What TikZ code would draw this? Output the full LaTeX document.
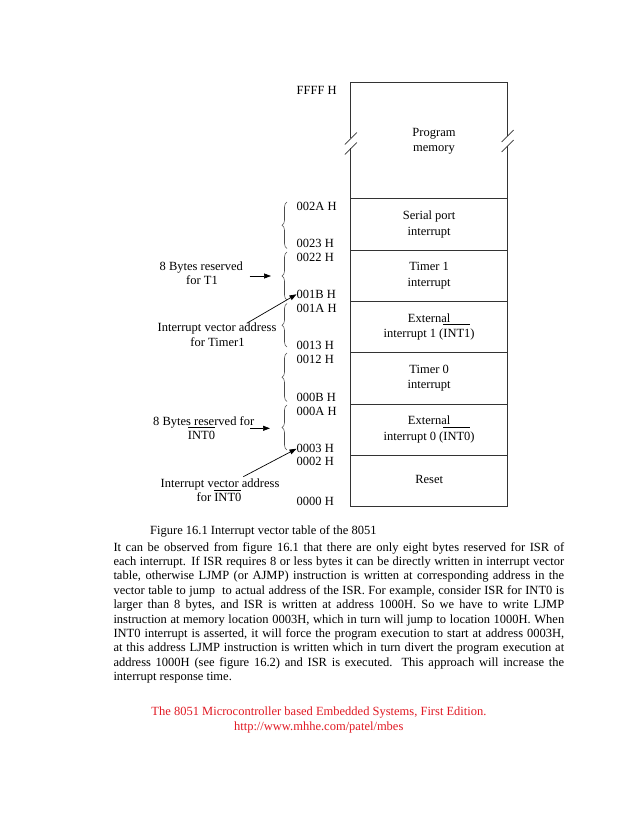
\documentclass[tikz,border=0pt]{standalone}
\usepackage{fontspec}
\setmainfont{Liberation Serif}
\usetikzlibrary{arrows.meta,decorations.pathreplacing}
\newsavebox\ovlbox
\newcommand\ovl[2][4pt]{\sbox\ovlbox{#2}\rlap{\rule[\dimexpr\ht\ovlbox+#1\relax]{\wd\ovlbox}{0.5pt}}\usebox\ovlbox}
\definecolor{ftred}{RGB}{225,25,35}
\begin{document}
\begin{tikzpicture}[x=1pt,y=-1pt,
  font=\fontsize{12.5}{15.3}\selectfont,
  ln/.style={draw=black!80, line width=0.7pt},
  cell/.style={ln, minimum width=156.7pt, minimum height=51.25pt, inner sep=0pt, align=center, anchor=north},
  addr/.style={anchor=base west, inner sep=0pt},
  lbl/.style={anchor=base, inner sep=0pt},
  bracedeco/.style={draw=black!70, line width=0.55pt, decorate, decoration={brace, amplitude=5pt}},
  arr/.style={draw=black, line width=0.7pt, -{Triangle[length=7pt,width=5pt]}}
]
\fill[white] (0,0) rectangle (638,826);
\useasboundingbox (0,0) rectangle (638,826);

% program memory outline with breaks
\draw[ln] (350.8,138.5) -- (350.8,82) -- (507.5,82) -- (507.5,136);
\draw[ln] (350.8,148.5) -- (350.8,198.5);
\draw[ln] (507.5,146) -- (507.5,198.5);
\draw[ln] (344.8,144.5) -- (356.8,132.5);
\draw[ln] (344.8,154.5) -- (356.8,142.5);
\draw[ln] (501.5,142) -- (513.5,130);
\draw[ln] (501.5,152) -- (513.5,140);
\node[align=center, inner sep=0pt] (prog) at (434,141) {Program\\memory};

% vector table cells
\node[cell] (serial) at (429.15,198.5) {Serial port\\interrupt};
\node[cell] (timer1) at (429.15,249.75) {Timer 1\\interrupt};
\node[cell] (ext1) at (429.15,301) {External\\interrupt 1 (\ovl[4.5pt]{INT1})};
\node[cell] (timer0) at (429.15,352.25) {Timer 0\\interrupt};
\node[cell] (ext0) at (429.15,403.5) {External\\interrupt 0 (\ovl[4.5pt]{INT0})};
\node[cell] (reset) at (429.15,454.75) {\raisebox{2pt}{Reset}};

% addresses
\node[addr] (aFFFF) at (296.5,94.1) {FFFF H};
\node[addr] (a002A) at (296.5,210.8) {002A H};
\node[addr] (a0023) at (296.5,247.4) {0023 H};
\node[addr] (a0022) at (296.5,261.8) {0022 H};
\node[addr] (a001B) at (296.5,298.4) {001B H};
\node[addr] (a001A) at (296.5,312.4) {001A H};
\node[addr] (a0013) at (296.5,349.1) {0013 H};
\node[addr] (a0012) at (296.5,363.1) {0012 H};
\node[addr] (a000B) at (296.5,401.4) {000B H};
\node[addr] (a000A) at (296.5,415.1) {000A H};
\node[addr] (a0003) at (296.5,452.8) {0003 H};
\node[addr] (a0002) at (296.5,465.8) {0002 H};
\node[addr] (a0000) at (296.5,505.8) {0000 H};

% braces
\draw[bracedeco] (287,248.5) -- (287,202) coordinate[midway] (b1);
\draw[bracedeco] (287,300) -- (287,252) coordinate[midway] (b2);
\draw[bracedeco] (287,347) -- (287,303.5) coordinate[midway] (b3);
\draw[bracedeco] (287,401.5) -- (287,353) coordinate[midway] (b4);
\draw[bracedeco] (287,450) -- (287,405) coordinate[midway] (b5);

% left labels
\node[lbl] (t1a) at (201.3,270.1) {8 Bytes reserved};
\node[lbl] (t1b) at (202,284.5) {for T1};
\node[lbl] (v1a) at (217,331.5) {Interrupt vector address};
\node[lbl] (v1b) at (217.5,346) {for Timer1};
\node[lbl] (i0a) at (203.7,425) {8 Bytes reserved for};
\node[lbl] (i0b) at (201.5,439) {\ovl[3pt]{INT0}};
\node[lbl] (v0a) at (220,487) {Interrupt vector address};
\node[lbl] (v0b) at (219,501.5) {for \ovl[2.5pt]{INT0}};

% arrows
\coordinate (t1tail) at (249.5,276);
\coordinate (v1tail) at (246.7,323.3);
\coordinate (i0tail) at (250,428.3);
\coordinate (v0tail) at (243.3,476.7);
\draw[arr, shorten >=16pt] (t1tail) -- (b2);
\draw[arr] (v1tail) -- (a001B.west);
\draw[arr, shorten >=17pt] (i0tail) -- (b5 |- i0tail);
\draw[arr] (v0tail) -- (a0003.west);

% caption and text
\node[anchor=base west, inner sep=0pt] (caption) at (150,534) {Figure 16.1 Interrupt vector table of the 8051};
\node[anchor=base west, inner sep=0pt] (body) at (113.3,551) {\parbox[t]{450.7pt}{\fontsize{12.5}{14.4}\selectfont\parindent=0pt\emergencystretch=2em
It can be observed from figure 16.1 that there are only eight bytes reserved for ISR of\linebreak
each interrupt. If ISR requires 8 or less bytes it can be directly written in interrupt vector\linebreak
table, otherwise LJMP (or AJMP) instruction is written at corresponding address in the\linebreak
vector table to jump\ \ to actual address of the ISR. For example, consider ISR for INT0 is\linebreak
larger than 8 bytes, and ISR is written at address 1000H. So we have to write LJMP\linebreak
instruction at memory location 0003H, which in turn will jump to location 1000H. When\linebreak
INT0 interrupt is asserted, it will force the program execution to start at address 0003H,\linebreak
at this address LJMP instruction is written which in turn divert the program execution at\linebreak
address 1000H (see figure 16.2) and ISR is executed. This approach will increase the\linebreak
interrupt response time.}};

% footer
\node[lbl, text=ftred] (foot1) at (319,715.8) {The 8051 Microcontroller based Embedded Systems, First Edition.};
\node[lbl, text=ftred] (foot2) at (318.7,730.8) {http://www.mhhe.com/patel/mbes};
\end{tikzpicture}
\end{document}
